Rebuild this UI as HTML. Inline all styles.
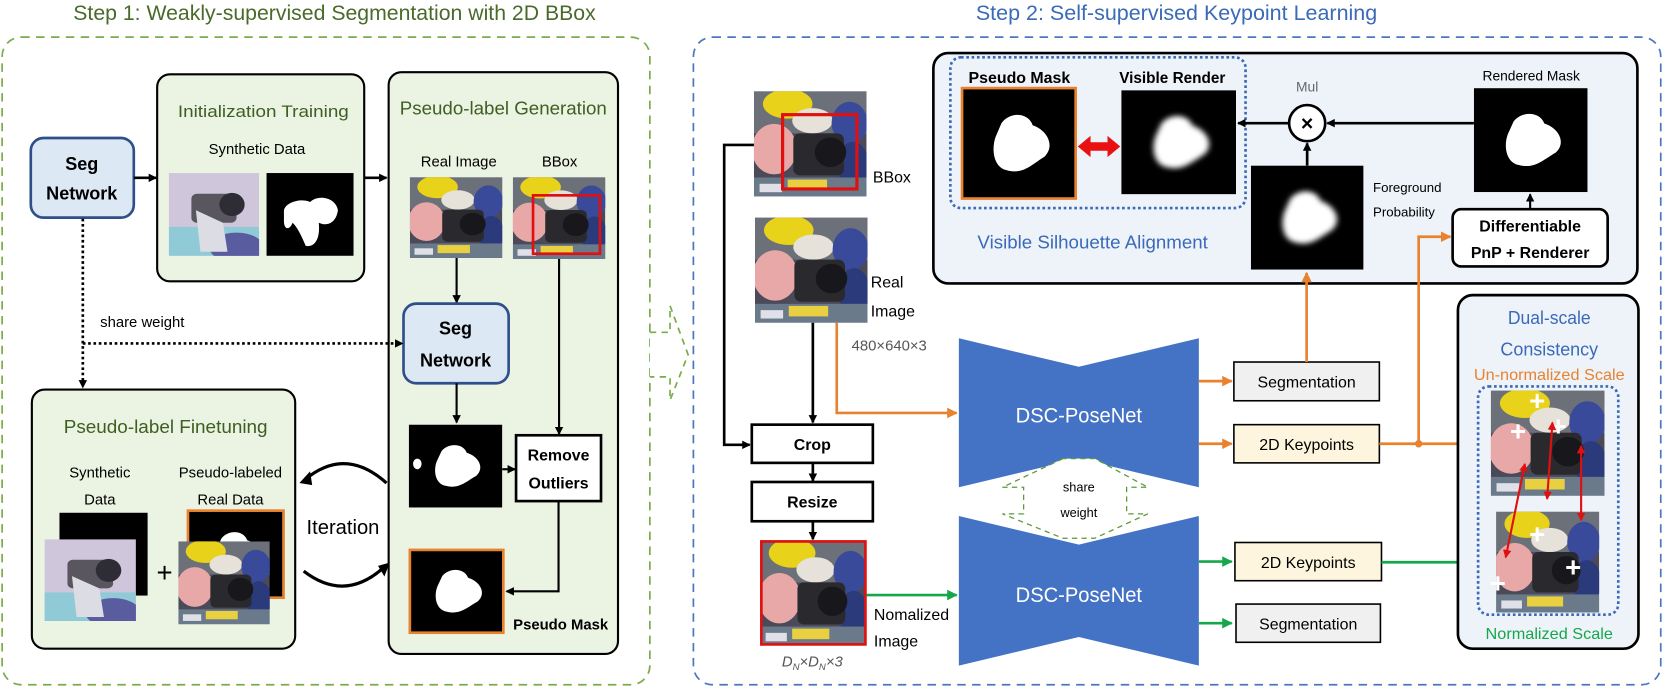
<!DOCTYPE html>
<html><head><meta charset="utf-8"><style>
html,body{margin:0;padding:0;background:#fff;}
svg{display:block;}
text{font-family:"Liberation Sans",sans-serif;}
</style></head><body>
<svg width="1665" height="689" viewBox="0 0 1568 649" preserveAspectRatio="none" xmlns="http://www.w3.org/2000/svg">
<defs>
<symbol id="real" viewBox="0 0 100 100" preserveAspectRatio="none">
<rect width="100" height="100" fill="#4a4a58"/>
<rect x="0" y="0" width="100" height="40" fill="#6c7078"/>
<ellipse cx="30" cy="12" rx="22" ry="14" fill="#e8d21a"/>
<ellipse cx="52" cy="28" rx="18" ry="12" fill="#e6e2da"/>
<ellipse cx="18" cy="55" rx="20" ry="24" fill="#e8a8a8"/>
<ellipse cx="85" cy="30" rx="16" ry="20" fill="#3a4a9a"/>
<ellipse cx="88" cy="70" rx="14" ry="22" fill="#2a3a7a"/>
<rect x="35" y="40" width="45" height="40" rx="6" fill="#2a2a2e"/>
<circle cx="68" cy="58" r="14" fill="#18181c"/>
<rect x="0" y="82" width="100" height="18" fill="#6a7a8a"/>
<rect x="30" y="84" width="35" height="10" fill="#e8d040"/>
<rect x="5" y="88" width="20" height="8" fill="#e0e0e8"/>
</symbol>
<symbol id="syn" viewBox="0 0 100 100" preserveAspectRatio="none">
<rect width="100" height="100" fill="#cfc6dc"/>
<rect x="0" y="65" width="100" height="35" fill="#8fcad6"/>
<ellipse cx="75" cy="90" rx="30" ry="18" fill="#5a5ca0"/>
<rect x="25" y="25" width="50" height="35" rx="6" fill="#5a5660"/>
<circle cx="70" cy="38" r="14" fill="#2e2c34"/>
<path d="M30,45 L60,60 L65,95 L35,95 Z" fill="#dcdce4"/>
</symbol>
<symbol id="blob" viewBox="0 0 100 100" preserveAspectRatio="none">
<rect width="100" height="100" fill="#000"/>
<path d="M35,32 C42,22 58,22 62,34 C74,38 82,52 72,62 C62,68 54,78 40,74 C28,72 26,55 30,44 Z" fill="#fff"/>
</symbol>
<symbol id="soft" viewBox="0 0 100 100" preserveAspectRatio="none">
<rect width="100" height="100" fill="#000"/>
<path d="M35,32 C42,22 58,22 62,34 C74,38 82,52 72,62 C62,68 54,78 40,74 C28,72 26,55 30,44 Z" fill="#fff" filter="url(#bl)"/>
</symbol>
<filter id="bl"><feGaussianBlur stdDeviation="2.5"/></filter>
<marker id="ab" markerWidth="8" markerHeight="8" refX="7" refY="4" orient="auto" markerUnits="userSpaceOnUse"><path d="M0,0 L8,4 L0,8 Z" fill="#000"/></marker>
<marker id="ao" markerWidth="10" markerHeight="10" refX="9" refY="5" orient="auto" markerUnits="userSpaceOnUse"><path d="M0,0 L10,5 L0,10 Z" fill="#e8822e"/></marker>
<marker id="ag" markerWidth="10" markerHeight="10" refX="9" refY="5" orient="auto" markerUnits="userSpaceOnUse"><path d="M0,0 L10,5 L0,10 Z" fill="#14a84a"/></marker>
<marker id="ar" markerWidth="8" markerHeight="8" refX="7" refY="4" orient="auto-start-reverse" markerUnits="userSpaceOnUse"><path d="M0,0 L8,4 L0,8 Z" fill="#e01010"/></marker>
</defs>

<text x="315" y="19" font-size="20" fill="#4a6a2a" text-anchor="middle" textLength="492" lengthAdjust="spacingAndGlyphs">Step 1: Weakly-supervised Segmentation with 2D BBox</text>
<text x="1108" y="19" font-size="20" fill="#3a6ab8" text-anchor="middle" textLength="378" lengthAdjust="spacingAndGlyphs">Step 2: Self-supervised Keypoint Learning</text>

<rect x="2" y="35" width="610" height="610" rx="18" fill="none" stroke="#7aac4a" stroke-width="1.6" stroke-dasharray="8,6"/>
<rect x="653" y="35" width="911" height="610" rx="18" fill="none" stroke="#4a78c0" stroke-width="1.6" stroke-dasharray="8,6"/>
<path d="M612,313 L631,313 L631,288 L648,334 L631,377 L631,355 L612,355" fill="#fff" stroke="#7aac4a" stroke-width="1.6" stroke-dasharray="6,5"/>

<rect x="29" y="130" width="97" height="75" rx="12" fill="#dde8f5" stroke="#2e4f8a" stroke-width="2.5"/>
<text x="77" y="160" font-size="17" font-weight="bold" text-anchor="middle">Seg</text>
<text x="77" y="188" font-size="17" font-weight="bold" text-anchor="middle">Network</text>
<line x1="126" y1="167.5" x2="147" y2="167.5" stroke="#000" stroke-width="2.5" marker-end="url(#ab)"/>

<rect x="148" y="70" width="195" height="195" rx="12" fill="#ebf3e3" stroke="#000" stroke-width="2"/>
<text x="248" y="110" font-size="16" fill="#3e5e22" text-anchor="middle" textLength="161" lengthAdjust="spacingAndGlyphs">Initialization Training</text>
<text x="242" y="145" font-size="14" text-anchor="middle">Synthetic Data</text>
<use href="#syn" x="159" y="163" width="85" height="78"/>
<svg x="251" y="163" width="82" height="78" viewBox="0 0 100 100" preserveAspectRatio="none"><rect width="100" height="100" fill="#000"/><path d="M20,45 C22,35 40,30 50,35 C60,25 80,30 82,45 C80,60 70,65 60,60 C62,80 55,90 45,88 C40,75 35,65 30,60 C26,70 20,68 20,58 Z" fill="#fff"/></svg>
<line x1="343" y1="167.5" x2="364" y2="167.5" stroke="#000" stroke-width="2.5" marker-end="url(#ab)"/>

<rect x="366" y="68" width="216" height="548" rx="12" fill="#ebf3e3" stroke="#000" stroke-width="2"/>
<text x="474" y="108" font-size="17" fill="#3e5e22" text-anchor="middle" textLength="195" lengthAdjust="spacingAndGlyphs">Pseudo-label Generation</text>
<text x="432" y="157" font-size="14" text-anchor="middle">Real Image</text>
<text x="527" y="157" font-size="14" text-anchor="middle">BBox</text>
<use href="#real" x="386" y="167" width="87" height="76"/>
<use href="#real" x="483" y="167" width="87" height="77"/>
<rect x="502" y="184" width="63" height="55" fill="none" stroke="#e01010" stroke-width="2.5"/>
<line x1="430" y1="243" x2="430" y2="285" stroke="#000" stroke-width="2" marker-end="url(#ab)"/>
<rect x="380" y="286" width="99" height="75" rx="12" fill="#dde8f5" stroke="#2e4f8a" stroke-width="2.5"/>
<text x="429" y="315" font-size="17" font-weight="bold" text-anchor="middle">Seg</text>
<text x="429" y="345" font-size="17" font-weight="bold" text-anchor="middle">Network</text>
<line x1="430" y1="361" x2="430" y2="398" stroke="#000" stroke-width="2" marker-end="url(#ab)"/>
<use href="#blob" x="385" y="400" width="88" height="78"/>
<ellipse cx="393" cy="437" rx="4" ry="5" fill="#fff"/>
<line x1="473" y1="442" x2="485" y2="442" stroke="#000" stroke-width="2" marker-end="url(#ab)"/>
<rect x="486" y="410" width="80" height="62" fill="#fff" stroke="#000" stroke-width="2.5"/>
<text x="526" y="434" font-size="15" font-weight="bold" text-anchor="middle">Remove</text>
<text x="526" y="460" font-size="15" font-weight="bold" text-anchor="middle">Outliers</text>
<polyline points="526.5,244 526.5,409" fill="none" stroke="#000" stroke-width="2" marker-end="url(#ab)"/>
<polyline points="526,472 526,557 477,557" fill="none" stroke="#000" stroke-width="2" marker-end="url(#ab)"/>
<use href="#blob" x="385" y="517" width="90" height="80"/>
<rect x="386" y="518" width="88" height="78" fill="none" stroke="#e8822e" stroke-width="2.5"/>
<text x="528" y="593" font-size="14" font-weight="bold" text-anchor="middle">Pseudo Mask</text>

<line x1="78" y1="206" x2="78" y2="362" stroke="#000" stroke-width="2.5" stroke-dasharray="2.5,2.5"/>
<path d="M74,358 L78,366 L82,358 Z" fill="#000"/>
<line x1="78" y1="323.5" x2="374" y2="323.5" stroke="#000" stroke-width="2.5" stroke-dasharray="2.5,2.5"/>
<path d="M372,319.5 L380,323.5 L372,327.5 Z" fill="#000"/>
<text x="134" y="308" font-size="14" text-anchor="middle">share weight</text>

<rect x="30" y="367" width="248" height="244" rx="12" fill="#ebf3e3" stroke="#000" stroke-width="2"/>
<text x="156" y="408" font-size="17" fill="#3e5e22" text-anchor="middle" textLength="192" lengthAdjust="spacingAndGlyphs">Pseudo-label Finetuning</text>
<text x="94" y="450" font-size="14" text-anchor="middle">Synthetic</text>
<text x="94" y="475" font-size="14" text-anchor="middle">Data</text>
<text x="217" y="450" font-size="14" text-anchor="middle">Pseudo-labeled</text>
<text x="217" y="475" font-size="14" text-anchor="middle">Real Data</text>
<rect x="56" y="483" width="83" height="78" fill="#000"/>
<use href="#syn" x="42" y="508" width="86" height="77"/>
<text x="155" y="548" font-size="26" text-anchor="middle">+</text>
<use href="#blob" x="177" y="481" width="90" height="82"/>
<rect x="177" y="481" width="90" height="82" fill="none" stroke="#e8822e" stroke-width="2.5"/>
<use href="#real" x="168" y="510" width="86" height="78"/>
<text x="323" y="503" font-size="19" text-anchor="middle">Iteration</text>
<path d="M364,455 Q325,420 287,452" fill="none" stroke="#000" stroke-width="3"/>
<path d="M282,455 L292,444 L294,457 Z" fill="#000"/>
<path d="M286,538 Q325,568 362,534" fill="none" stroke="#000" stroke-width="3"/>
<path d="M367,530 L356,533 L362,543 Z" fill="#000"/>

<rect x="879" y="50" width="663" height="217" rx="14" fill="#eef3fa" stroke="#000" stroke-width="2.5"/>
<rect x="895" y="54" width="278" height="142" rx="10" fill="none" stroke="#3a6ab8" stroke-width="2.5" stroke-dasharray="2.5,2.5"/>
<text x="960" y="78" font-size="15" font-weight="bold" text-anchor="middle">Pseudo  Mask</text>
<text x="1104" y="78" font-size="15" font-weight="bold" text-anchor="middle" textLength="100" lengthAdjust="spacingAndGlyphs">Visible Render</text>
<use href="#blob" x="905" y="82" width="109" height="106"/>
<rect x="906" y="83" width="107" height="104" fill="none" stroke="#e8822e" stroke-width="2.5"/>
<path d="M1015,138 L1027,128 L1027,134 L1043,134 L1043,128 L1055,138 L1043,148 L1043,142 L1027,142 L1027,148 Z" fill="#e81010"/>
<use href="#soft" x="1056" y="85" width="108" height="98"/>
<text x="1231" y="86" font-size="13" fill="#666" text-anchor="middle">Mul</text>
<circle cx="1231" cy="116" r="17" fill="#fff" stroke="#000" stroke-width="2.5"/>
<text x="1231" y="123" font-size="20" font-weight="bold" text-anchor="middle">×</text>
<line x1="1388" y1="116" x2="1250" y2="116" stroke="#000" stroke-width="2.5" marker-end="url(#ab)"/>
<line x1="1214" y1="116" x2="1166" y2="116" stroke="#000" stroke-width="2.5" marker-end="url(#ab)"/>
<line x1="1231" y1="156" x2="1231" y2="135" stroke="#000" stroke-width="2.5" marker-end="url(#ab)"/>
<text x="1442" y="76" font-size="13" text-anchor="middle">Rendered  Mask</text>
<use href="#blob" x="1388" y="83" width="107" height="98"/>
<use href="#soft" x="1178" y="156" width="106" height="98"/>
<text x="1293" y="181" font-size="12.5">Foreground</text>
<text x="1293" y="204" font-size="12.5">Probability</text>
<rect x="1368" y="197" width="146" height="54" rx="8" fill="#fff" stroke="#000" stroke-width="2.5"/>
<text x="1441" y="218" font-size="15" font-weight="bold" text-anchor="middle">Differentiable</text>
<text x="1441" y="243" font-size="15" font-weight="bold" text-anchor="middle">PnP + Renderer</text>
<line x1="1441" y1="196" x2="1441" y2="183" stroke="#000" stroke-width="2" marker-end="url(#ab)"/>
<text x="1029" y="234" font-size="17" fill="#3a6ab8" text-anchor="middle" textLength="217" lengthAdjust="spacingAndGlyphs">Visible Silhouette Alignment</text>

<use href="#real" x="710" y="86" width="106" height="99"/>
<rect x="737" y="108" width="70" height="70" fill="none" stroke="#e01010" stroke-width="3"/>
<text x="822" y="172" font-size="15">BBox</text>
<use href="#real" x="711" y="205" width="106" height="99"/>
<text x="820" y="271" font-size="15">Real</text>
<text x="820" y="298" font-size="15">Image</text>
<text x="802" y="330" font-size="14" fill="#555">480×640×3</text>
<polyline points="710,136.5 682,136.5 682,419 706,419" fill="none" stroke="#000" stroke-width="2.5" marker-end="url(#ab)"/>
<line x1="765.5" y1="304" x2="765.5" y2="398" stroke="#000" stroke-width="2.5" marker-end="url(#ab)"/>
<polyline points="788,304 788,389 901,389" fill="none" stroke="#e8822e" stroke-width="2.5" marker-end="url(#ao)"/>
<rect x="708" y="400" width="114" height="36" fill="#fff" stroke="#000" stroke-width="2.5"/>
<text x="765" y="424" font-size="15" font-weight="bold" text-anchor="middle">Crop</text>
<line x1="765.5" y1="436" x2="765.5" y2="453" stroke="#000" stroke-width="2.5" marker-end="url(#ab)"/>
<rect x="708" y="454" width="114" height="37" fill="#fff" stroke="#000" stroke-width="2.5"/>
<text x="765" y="478" font-size="15" font-weight="bold" text-anchor="middle">Resize</text>
<line x1="765.5" y1="491" x2="765.5" y2="508" stroke="#000" stroke-width="2.5" marker-end="url(#ab)"/>
<use href="#real" x="716" y="509" width="100" height="99"/>
<rect x="717" y="510" width="98" height="97" fill="none" stroke="#e01010" stroke-width="2.5"/>
<line x1="816" y1="560.5" x2="901" y2="560.5" stroke="#14a84a" stroke-width="2.5" marker-end="url(#ag)"/>
<text x="823" y="584" font-size="15">Nomalized</text>
<text x="823" y="609" font-size="15">Image</text>
<text x="765" y="628" font-size="14" fill="#555" text-anchor="middle" font-family="Liberation Serif" font-style="italic">D<tspan font-size="9" dy="3">N</tspan><tspan dy="-3">×D</tspan><tspan font-size="9" dy="3">N</tspan><tspan dy="-3">×3</tspan></text>

<path d="M903,318.6 L1016,345.5 L1129,318.6 L1129,459 L1016,432 L903,459 Z" fill="#4472c4"/>
<text x="1016" y="398" font-size="20" fill="#fff" text-anchor="middle" textLength="119" lengthAdjust="spacingAndGlyphs">DSC-PoseNet</text>
<path d="M903,486 L1016,513 L1129,486 L1129,627 L1016,600 L903,627 Z" fill="#4472c4"/>
<text x="1016" y="567" font-size="20" fill="#fff" text-anchor="middle" textLength="119" lengthAdjust="spacingAndGlyphs">DSC-PoseNet</text>
<path d="M1001,432 L944,459 L964,459 L964,484 L944,484 L1001,507 L1031,507 L1081,484 L1061,484 L1061,459 L1081,459 L1031,432 Z" fill="#fff" stroke="#5a9a3a" stroke-width="1.2" stroke-dasharray="5,4"/>
<text x="1016" y="463" font-size="12" text-anchor="middle">share</text>
<text x="1016" y="487" font-size="12" text-anchor="middle">weight</text>

<line x1="1129" y1="359" x2="1160" y2="359" stroke="#e8822e" stroke-width="2.5" marker-end="url(#ao)"/>
<line x1="1129" y1="418" x2="1160" y2="418" stroke="#e8822e" stroke-width="2.5" marker-end="url(#ao)"/>
<line x1="1129" y1="529" x2="1160" y2="529" stroke="#14a84a" stroke-width="2.5" marker-end="url(#ag)"/>
<line x1="1129" y1="587" x2="1160" y2="587" stroke="#14a84a" stroke-width="2.5" marker-end="url(#ag)"/>
<rect x="1162" y="341" width="137" height="36.5" fill="#f0f0f0" stroke="#000" stroke-width="1.5"/>
<text x="1230.5" y="365" font-size="15" text-anchor="middle">Segmentation</text>
<rect x="1162" y="400" width="137" height="36" fill="#fdf5de" stroke="#000" stroke-width="1.5"/>
<text x="1230.5" y="424" font-size="15" text-anchor="middle">2D Keypoints</text>
<rect x="1163" y="511" width="138" height="36" fill="#fdf5de" stroke="#000" stroke-width="1.5"/>
<text x="1232" y="535" font-size="15" text-anchor="middle">2D Keypoints</text>
<rect x="1164" y="569" width="136" height="36" fill="#f0f0f0" stroke="#000" stroke-width="1.5"/>
<text x="1232" y="593" font-size="15" text-anchor="middle">Segmentation</text>
<line x1="1230.5" y1="341" x2="1230.5" y2="257" stroke="#e8822e" stroke-width="2.5" marker-end="url(#ao)"/>
<line x1="1299" y1="418" x2="1396" y2="418" stroke="#e8822e" stroke-width="2.5" marker-end="url(#ao)"/>
<polyline points="1336,418 1336,223 1366,223" fill="none" stroke="#e8822e" stroke-width="2.5" marker-end="url(#ao)"/>
<circle cx="1336" cy="418" r="3.5" fill="#e8822e"/>
<line x1="1301" y1="529.6" x2="1407" y2="529.6" stroke="#14a84a" stroke-width="2.5" marker-end="url(#ag)"/>

<rect x="1373" y="278" width="170" height="333" rx="14" fill="#eef3fa" stroke="#000" stroke-width="2.5"/>
<text x="1459" y="305" font-size="17" fill="#3a6ab8" text-anchor="middle" textLength="78" lengthAdjust="spacingAndGlyphs">Dual-scale</text>
<text x="1459" y="335" font-size="17" fill="#3a6ab8" text-anchor="middle" textLength="92" lengthAdjust="spacingAndGlyphs">Consistency</text>
<text x="1459" y="358" font-size="15" fill="#e8822e" text-anchor="middle" textLength="142" lengthAdjust="spacingAndGlyphs">Un-normalized Scale</text>
<rect x="1392" y="364" width="132" height="215" rx="10" fill="none" stroke="#3a6ab8" stroke-width="2.5" stroke-dasharray="2.5,2.5"/>
<use href="#real" x="1404" y="368" width="107" height="99"/>
<use href="#real" x="1409" y="482" width="97" height="95"/>
<g fill="#fff" font-size="26" font-weight="bold" font-family="Liberation Sans">
<text x="1440" y="386">+</text><text x="1422" y="415">+</text><text x="1460" y="410">+</text>
<text x="1440" y="512">+</text><text x="1403" y="558">+</text><text x="1474" y="543">+</text>
</g>
<line x1="1436" y1="437" x2="1418" y2="525" stroke="#e01010" stroke-width="2" marker-start="url(#ar)" marker-end="url(#ar)"/>
<line x1="1462" y1="398" x2="1457" y2="470" stroke="#e01010" stroke-width="2" marker-start="url(#ar)" marker-end="url(#ar)"/>
<line x1="1489" y1="420" x2="1489" y2="490" stroke="#e01010" stroke-width="2" marker-start="url(#ar)" marker-end="url(#ar)"/>
<text x="1459" y="602" font-size="15" fill="#14a84a" text-anchor="middle" textLength="120" lengthAdjust="spacingAndGlyphs">Normalized Scale</text>
</svg>
</body></html>
